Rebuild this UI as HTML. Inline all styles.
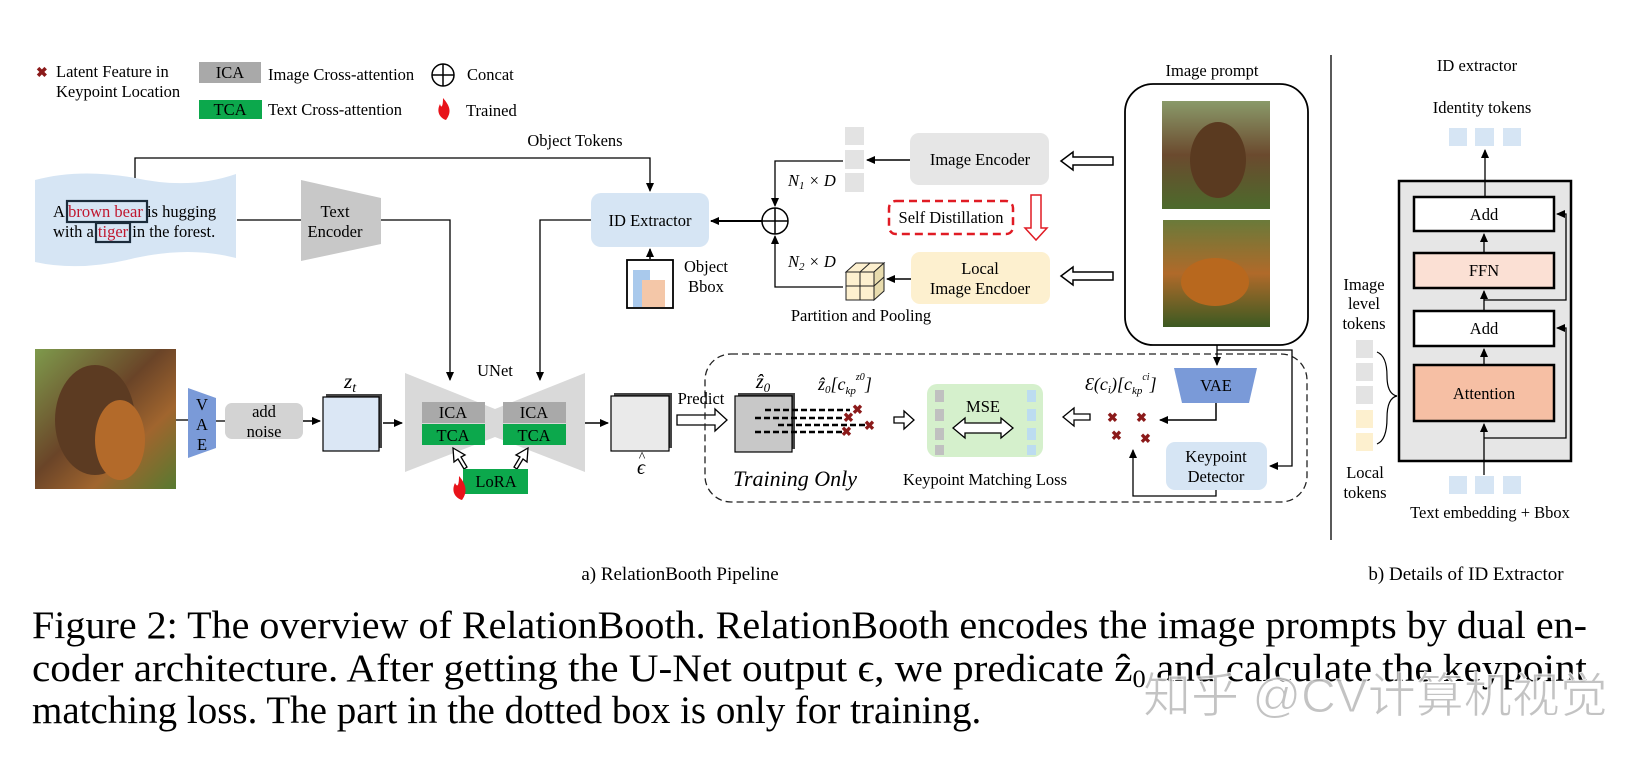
<!DOCTYPE html>
<html><head><meta charset="utf-8"><style>
html,body{margin:0;padding:0;background:#fff;}
svg{display:block;font-family:"Liberation Serif",serif;}
</style></head><body>
<svg width="1638" height="760" viewBox="0 0 1638 760" xmlns="http://www.w3.org/2000/svg">
<defs>
<marker id="ah" markerWidth="10" markerHeight="10" refX="8" refY="5" orient="auto" markerUnits="userSpaceOnUse"><path d="M0,1 L9,5 L0,9 z" fill="#000"/></marker>
<linearGradient id="bear" x1="0" y1="0" x2="0" y2="1"><stop offset="0" stop-color="#8a9a6a"/><stop offset="0.5" stop-color="#6b4a2e"/><stop offset="1" stop-color="#4c6a2c"/></linearGradient>
<linearGradient id="tiger" x1="0" y1="0" x2="0" y2="1"><stop offset="0" stop-color="#6a7a3a"/><stop offset="0.5" stop-color="#b06a2a"/><stop offset="1" stop-color="#3c5a22"/></linearGradient>
<linearGradient id="hug" x1="0" y1="0" x2="1" y2="1"><stop offset="0" stop-color="#7e9a4c"/><stop offset="0.45" stop-color="#6a4428"/><stop offset="0.7" stop-color="#a0652e"/><stop offset="1" stop-color="#577a30"/></linearGradient>
</defs>
<g font-size="16.5">
<!-- legend -->
<text x="36" y="77" font-size="14" fill="#8b1a1a" font-weight="bold">✖</text>
<text x="56" y="77">Latent Feature in</text>
<text x="56" y="97">Keypoint Location</text>
<rect x="199" y="62" width="62" height="21" fill="#a9a9a9"/><text x="230" y="78" text-anchor="middle">ICA</text>
<text x="268" y="80">Image Cross-attention</text>
<rect x="199" y="100" width="63" height="19" fill="#0ca84c"/><text x="230" y="115" text-anchor="middle">TCA</text>
<text x="268" y="115">Text Cross-attention</text>
<circle cx="443" cy="75" r="11" fill="none" stroke="#000" stroke-width="1.5"/><line x1="432" y1="75" x2="454" y2="75" stroke="#000" stroke-width="1.5"/><line x1="443" y1="64" x2="443" y2="86" stroke="#000" stroke-width="1.5"/>
<text x="467" y="80">Concat</text>
<path d="M443,98 C450,106 452,112 446,120 C440,118 436,112 440,104 C441,108 443,108 443,98z" fill="#e8131a"/>
<text x="466" y="116">Trained</text>

<!-- object tokens line -->
<text x="575" y="146" text-anchor="middle">Object Tokens</text>
<polyline points="135,178 135,158 650,158 650,191" fill="none" stroke="#000" stroke-width="1.3" marker-end="url(#ah)"/>
<!-- doc shape -->
<path d="M35,180 Q80,168 135,178 Q190,190 236,174 L236,258 Q190,246 135,258 Q80,272 35,262 z" fill="#d6e5f4"/>
<text x="53" y="217">A <tspan fill="#c0172f">brown bear</tspan> is hugging</text>
<text x="53" y="237">with a <tspan fill="#c0172f">tiger</tspan> in the forest.</text>
<rect x="67" y="201" width="80" height="21" fill="none" stroke="#1b2b3a" stroke-width="2.2"/>
<rect x="96" y="223" width="34" height="19" fill="none" stroke="#1b2b3a" stroke-width="2.2"/>
<!-- text encoder -->
<polygon points="301,180 381,198 381,244 301,261" fill="#c8c8c8"/>
<text x="335" y="217" text-anchor="middle">Text</text><text x="335" y="237" text-anchor="middle">Encoder</text>
<line x1="237" y1="220" x2="301" y2="220" stroke="#000" stroke-width="1.3"/>
<polyline points="381,220 450,220 450,380" fill="none" stroke="#000" stroke-width="1.3" marker-end="url(#ah)"/>
<!-- ID extractor -->
<rect x="591" y="193" width="118" height="54" rx="10" fill="#d6e5f4"/>
<text x="650" y="226" text-anchor="middle">ID Extractor</text>
<polyline points="591,220 540,220 540,380" fill="none" stroke="#000" stroke-width="1.3" marker-end="url(#ah)"/>
<line x1="762" y1="221" x2="711" y2="221" stroke="#000" stroke-width="2" marker-end="url(#ah)"/>
<rect x="627" y="260" width="46" height="48" fill="#fff" stroke="#000" stroke-width="1.8"/>
<rect x="633" y="270" width="17" height="37" fill="#a9c9ec"/><rect x="642" y="280" width="23" height="27" fill="#f4c7a8"/>
<line x1="650" y1="259" x2="650" y2="249" stroke="#000" stroke-width="1.5" marker-end="url(#ah)"/>
<text x="706" y="272" text-anchor="middle">Object</text><text x="706" y="292" text-anchor="middle">Bbox</text>
<!-- concat -->
<circle cx="775" cy="221" r="13" fill="#fff" stroke="#000" stroke-width="1.5"/><line x1="762" y1="221" x2="788" y2="221" stroke="#000" stroke-width="1.5"/><line x1="775" y1="208" x2="775" y2="234" stroke="#000" stroke-width="1.5"/>
<polyline points="843,161 775,161 775,206" fill="none" stroke="#000" stroke-width="1.3" marker-end="url(#ah)"/>
<polyline points="843,287 775,287 775,236" fill="none" stroke="#000" stroke-width="1.3" marker-end="url(#ah)"/>
<text x="788" y="186" font-style="italic">N<tspan font-size="11" dy="3">1</tspan><tspan dy="-3"> × D</tspan></text>
<text x="788" y="267" font-style="italic">N<tspan font-size="11" dy="3">2</tspan><tspan dy="-3"> × D</tspan></text>
<rect x="845" y="127" width="19" height="18" fill="#e3e3e3"/><rect x="845" y="150" width="19" height="19" fill="#e3e3e3"/><rect x="845" y="173" width="19" height="19" fill="#e3e3e3"/>
<line x1="910" y1="160" x2="867" y2="160" stroke="#000" stroke-width="1.5" marker-end="url(#ah)"/>
<rect x="910" y="133" width="139" height="52" rx="9" fill="#e6e6e6"/><text x="980" y="165" text-anchor="middle">Image Encoder</text>
<rect x="889" y="201" width="124" height="33" rx="7" fill="none" stroke="#e01b24" stroke-width="2.5" stroke-dasharray="8,5"/>
<text x="951" y="223" text-anchor="middle">Self Distillation</text>
<path d="M1031,195 h10 v33 h6 l-11,12 l-11,-12 h6 z" fill="#fff" stroke="#e01b24" stroke-width="1.5"/>
<rect x="911" y="252" width="139" height="52" rx="9" fill="#fdf0cf"/>
<text x="980" y="274" text-anchor="middle">Local</text><text x="980" y="294" text-anchor="middle">Image Encdoer</text>
<line x1="911" y1="279" x2="887" y2="279" stroke="#000" stroke-width="1.5" marker-end="url(#ah)"/>
<!-- cube -->
<g stroke="#222" stroke-width="1" fill="#fdf0cf">
<polygon points="846,272 874,272 884,263 856,263"/><polygon points="874,272 884,263 884,291 874,300" fill="#e8dcae"/>
<rect x="846" y="272" width="28" height="28"/><line x1="860" y1="272" x2="860" y2="300"/><line x1="846" y1="286" x2="874" y2="286"/><line x1="860" y1="272" x2="870" y2="263"/><line x1="874" y1="286" x2="884" y2="277"/>
</g>
<text x="861" y="321" text-anchor="middle">Partition and Pooling</text>
<!-- hollow arrows -->
<path d="M1113,157 h-40 v-5 l-12,9 l12,9 v-5 h40 z" fill="#fff" stroke="#000" stroke-width="1.5"/>
<path d="M1113,272 h-40 v-5 l-12,9 l12,9 v-5 h40 z" fill="#fff" stroke="#000" stroke-width="1.5"/>
<!-- image prompt -->
<text x="1212" y="76" text-anchor="middle">Image prompt</text>
<rect x="1125" y="84" width="183" height="261" rx="28" fill="#fff" stroke="#000" stroke-width="1.8"/>
<rect x="1162" y="101" width="108" height="108" fill="url(#bear)"/>
<ellipse cx="1218" cy="160" rx="28" ry="38" fill="#5a3a20"/>
<rect x="1163" y="220" width="107" height="107" fill="url(#tiger)"/>
<ellipse cx="1215" cy="282" rx="34" ry="24" fill="#b8681e"/>
<!-- separator -->
<line x1="1331" y1="55" x2="1331" y2="540" stroke="#000" stroke-width="1.3"/>

<!-- bottom row -->
<rect x="35" y="349" width="141" height="140" fill="url(#hug)"/>
<ellipse cx="95" cy="420" rx="40" ry="55" fill="#5c3b22"/><ellipse cx="120" cy="440" rx="25" ry="40" fill="#b36a2a"/>
<line x1="176" y1="420" x2="188" y2="420" stroke="#000" stroke-width="1.3"/>
<polygon points="188,388 216,398 216,448 188,458" fill="#7a9ad8"/>
<text x="202" y="410" text-anchor="middle">V</text><text x="202" y="430" text-anchor="middle">A</text><text x="202" y="450" text-anchor="middle">E</text>
<line x1="216" y1="421" x2="225" y2="421" stroke="#000" stroke-width="1.3"/>
<rect x="225" y="403" width="78" height="36" rx="7" fill="#d3d3d3"/>
<text x="264" y="417" text-anchor="middle">add</text><text x="264" y="437" text-anchor="middle">noise</text>
<line x1="303" y1="421" x2="320" y2="421" stroke="#000" stroke-width="1.5" marker-end="url(#ah)"/>
<rect x="326" y="394" width="56" height="54" fill="#444"/><rect x="323" y="397" width="56" height="54" fill="#dbe7f5" stroke="#000" stroke-width="1.2"/>
<text x="344" y="388" font-size="21" font-style="italic">z<tspan font-size="14" dy="4">t</tspan></text>
<line x1="383" y1="423" x2="402" y2="423" stroke="#000" stroke-width="1.5" marker-end="url(#ah)"/>
<polygon points="405,373 495,409 585,373 585,472 495,437 405,472" fill="#d9d9d9"/>
<text x="495" y="376" text-anchor="middle">UNet</text>
<rect x="422" y="402" width="63" height="21" fill="#a9a9a9"/><text x="453" y="418" text-anchor="middle">ICA</text>
<rect x="422" y="424" width="63" height="21" fill="#0ca84c"/><text x="453" y="441" text-anchor="middle">TCA</text>
<rect x="503" y="402" width="63" height="21" fill="#a9a9a9"/><text x="534" y="418" text-anchor="middle">ICA</text>
<rect x="503" y="424" width="63" height="21" fill="#0ca84c"/><text x="534" y="441" text-anchor="middle">TCA</text>
<path d="M464,469 l-6,-10 l-4,3 l-1,-14 l12,7 l-4,2 l6,10 z" fill="#fff" stroke="#000" stroke-width="1.3"/>
<path d="M517,469 l6,-10 l4,3 l1,-14 l-12,7 l4,2 l-6,10 z" fill="#fff" stroke="#000" stroke-width="1.3"/>
<rect x="463" y="469" width="65" height="25" fill="#0ca84c"/><text x="496" y="487" text-anchor="middle">LoRA</text>
<path d="M459,476 C466,484 468,492 462,500 C455,498 451,491 455,483 C457,487 459,487 459,476z" fill="#e8131a"/>
<line x1="585" y1="423" x2="608" y2="423" stroke="#000" stroke-width="1.5" marker-end="url(#ah)"/>
<rect x="614" y="393" width="58" height="55" fill="#444"/><rect x="611" y="396" width="58" height="55" fill="#eaeaea" stroke="#000" stroke-width="1.2"/>
<text x="641" y="474" font-size="20" font-style="italic" text-anchor="middle">ϵ</text>
<text x="642" y="461" font-size="14" text-anchor="middle">^</text>
<text x="701" y="404" text-anchor="middle">Predict</text>
<path d="M677,415 h38 v-6 l12,11 l-12,11 v-6 h-38 z" fill="#fff" stroke="#000" stroke-width="1.3"/>
<!-- dashed training box -->
<rect x="705" y="354" width="602" height="148" rx="26" fill="none" stroke="#222" stroke-width="1.3" stroke-dasharray="7,4"/>
<rect x="738" y="393" width="57" height="56" fill="#444"/><rect x="735" y="396" width="57" height="56" fill="#c8c8c8" stroke="#000" stroke-width="1.2"/>
<text x="763" y="388" font-size="20" font-style="italic" text-anchor="middle">ẑ<tspan font-size="13" dy="4">0</tspan></text>
<g stroke="#000" stroke-width="2.5" stroke-dasharray="6,3">
<line x1="765" y1="410" x2="850" y2="410"/><line x1="755" y1="418" x2="843" y2="418"/><line x1="778" y1="425" x2="865" y2="425"/><line x1="755" y1="432" x2="842" y2="432"/></g>
<g font-size="13" fill="#8b1a1a" font-weight="bold"><text x="852" y="414">✖</text><text x="843" y="422">✖</text><text x="864" y="430">✖</text><text x="841" y="436">✖</text></g>
<text x="818" y="390" font-size="18" font-style="italic">ẑ<tspan font-size="11" dy="3">0</tspan><tspan dy="-3">[c</tspan><tspan font-size="11" dy="4">kp</tspan><tspan font-size="10" dy="-14">z0</tspan><tspan dy="10">]</tspan></text>
<path d="M894,417 h10 v-6 l10,9 l-10,9 v-6 h-10 z" fill="#fff" stroke="#000" stroke-width="1.3"/>
<rect x="927" y="384" width="116" height="73" rx="10" fill="#d5f0cc"/>
<g fill="#c0c0c0"><rect x="935" y="390" width="9" height="12"/><rect x="935" y="409" width="9" height="12"/><rect x="935" y="428" width="9" height="12"/><rect x="935" y="445" width="9" height="10"/></g>
<g fill="#bcdcf0"><rect x="1027" y="390" width="9" height="12"/><rect x="1027" y="409" width="9" height="12"/><rect x="1027" y="428" width="9" height="12"/><rect x="1027" y="445" width="9" height="10"/></g>
<text x="983" y="412" text-anchor="middle">MSE</text>
<path d="M953,428 l12,-10 v5 h36 v-5 l12,10 l-12,10 v-5 h-36 v5 z" fill="#fff" stroke="#000" stroke-width="1.3"/>
<path d="M1090,414 h-16 v-6 l-11,9 l11,9 v-6 h16 z" fill="#fff" stroke="#000" stroke-width="1.3"/>
<text x="985" y="485" text-anchor="middle">Keypoint Matching Loss</text>
<text x="795" y="486" font-size="22" font-style="italic" text-anchor="middle">Training Only</text>
<text x="1085" y="390" font-size="18" font-style="italic">Ɛ(c<tspan font-size="11" dy="3">i</tspan><tspan dy="-3">)[c</tspan><tspan font-size="11" dy="4">kp</tspan><tspan font-size="10" dy="-14">ci</tspan><tspan dy="10">]</tspan></text>
<g font-size="13" fill="#8b1a1a" font-weight="bold"><text x="1107" y="422">✖</text><text x="1136" y="422">✖</text><text x="1111" y="440">✖</text><text x="1140" y="443">✖</text></g>
<polygon points="1174,368 1257,368 1249,403 1182,403" fill="#7a9ad8"/>
<text x="1216" y="391" text-anchor="middle">VAE</text>
<line x1="1217" y1="345" x2="1217" y2="365" stroke="#000" stroke-width="1.3" marker-end="url(#ah)"/>
<polyline points="1217,350 1292,350 1292,466 1270,466" fill="none" stroke="#000" stroke-width="1.3" marker-end="url(#ah)"/>
<polyline points="1216,403 1216,420 1160,420" fill="none" stroke="#000" stroke-width="1.5" marker-end="url(#ah)"/>
<rect x="1166" y="442" width="101" height="48" rx="9" fill="#d6e5f4"/>
<text x="1216" y="462" text-anchor="middle">Keypoint</text><text x="1216" y="482" text-anchor="middle">Detector</text>
<polyline points="1216,490 1216,496 1133,496 1133,450" fill="none" stroke="#000" stroke-width="1.3" marker-end="url(#ah)"/>

<!-- ID extractor detail -->
<text x="1477" y="71" text-anchor="middle">ID extractor</text>
<text x="1482" y="113" text-anchor="middle">Identity tokens</text>
<g fill="#d6e5f4"><rect x="1449" y="128" width="18" height="18"/><rect x="1475" y="128" width="19" height="18"/><rect x="1503" y="128" width="18" height="18"/></g>
<rect x="1399" y="181" width="172" height="280" fill="#e6e6e6" stroke="#000" stroke-width="2.5"/>
<line x1="1485" y1="197" x2="1485" y2="150" stroke="#000" stroke-width="1.3" marker-end="url(#ah)"/>
<rect x="1414" y="197" width="140" height="34" fill="#fff" stroke="#000" stroke-width="2.5"/><text x="1484" y="220" text-anchor="middle">Add</text>
<rect x="1414" y="253" width="140" height="35" fill="#fbe0d4" stroke="#000" stroke-width="2.5"/><text x="1484" y="276" text-anchor="middle">FFN</text>
<rect x="1414" y="311" width="140" height="35" fill="#fff" stroke="#000" stroke-width="2.5"/><text x="1484" y="334" text-anchor="middle">Add</text>
<rect x="1414" y="365" width="140" height="56" fill="#f6bfa4" stroke="#000" stroke-width="2.5"/><text x="1484" y="399" text-anchor="middle">Attention</text>
<g stroke="#000" stroke-width="1.3" fill="none">
<line x1="1484" y1="253" x2="1484" y2="234" marker-end="url(#ah)"/>
<line x1="1484" y1="311" x2="1484" y2="291" marker-end="url(#ah)"/>
<line x1="1484" y1="365" x2="1484" y2="349" marker-end="url(#ah)"/>
<line x1="1484" y1="475" x2="1484" y2="424" marker-end="url(#ah)"/>
<polyline points="1484,300 1566,300 1566,214 1557,214" marker-end="url(#ah)"/>
<polyline points="1484,438 1566,438 1566,328 1557,328" marker-end="url(#ah)"/>
</g>
<text x="1364" y="290" text-anchor="middle">Image</text><text x="1364" y="309" text-anchor="middle">level</text><text x="1364" y="329" text-anchor="middle">tokens</text>
<g fill="#e3e3e3"><rect x="1356" y="340" width="17" height="18"/><rect x="1356" y="363" width="17" height="18"/><rect x="1356" y="386" width="17" height="18"/></g>
<g fill="#fdf0cf"><rect x="1356" y="410" width="17" height="18"/><rect x="1356" y="433" width="17" height="18"/></g>
<path d="M1377,352 Q1387,356 1387,376 Q1387,394 1397,396 Q1387,398 1387,418 Q1387,440 1377,444" fill="none" stroke="#000" stroke-width="1.2"/>
<text x="1365" y="478" text-anchor="middle">Local</text><text x="1365" y="498" text-anchor="middle">tokens</text>
<g fill="#d6e5f4"><rect x="1449" y="476" width="18" height="18"/><rect x="1475" y="476" width="19" height="18"/><rect x="1503" y="476" width="18" height="18"/></g>
<text x="1490" y="518" text-anchor="middle">Text embedding + Bbox</text>

<!-- sub captions -->
<text x="680" y="580" font-size="19" text-anchor="middle">a) RelationBooth Pipeline</text>
<text x="1466" y="580" font-size="19" text-anchor="middle">b) Details of ID Extractor</text>
</g>
<!-- caption -->
<g font-size="39">
<text x="32" y="638" textLength="1555" lengthAdjust="spacingAndGlyphs">Figure 2: The overview of RelationBooth. RelationBooth encodes the image prompts by dual en-</text>
<text x="32" y="681" textLength="1555" lengthAdjust="spacingAndGlyphs">coder architecture.  After getting the U-Net output ϵ, we predicate ẑ<tspan font-size="25" dy="6">0</tspan><tspan dy="-6"> and calculate the keypoint</tspan></text>
<text x="32" y="723">matching loss. The part in the dotted box is only for training.</text>
</g>
<text x="1143" y="712" font-size="48" fill="#bdbdbd" stroke="#fff" stroke-width="1" font-family="'Liberation Sans','Noto Sans CJK SC',sans-serif" opacity="0.9">知乎 @CV计算机视觉</text>
</svg>
</body></html>
